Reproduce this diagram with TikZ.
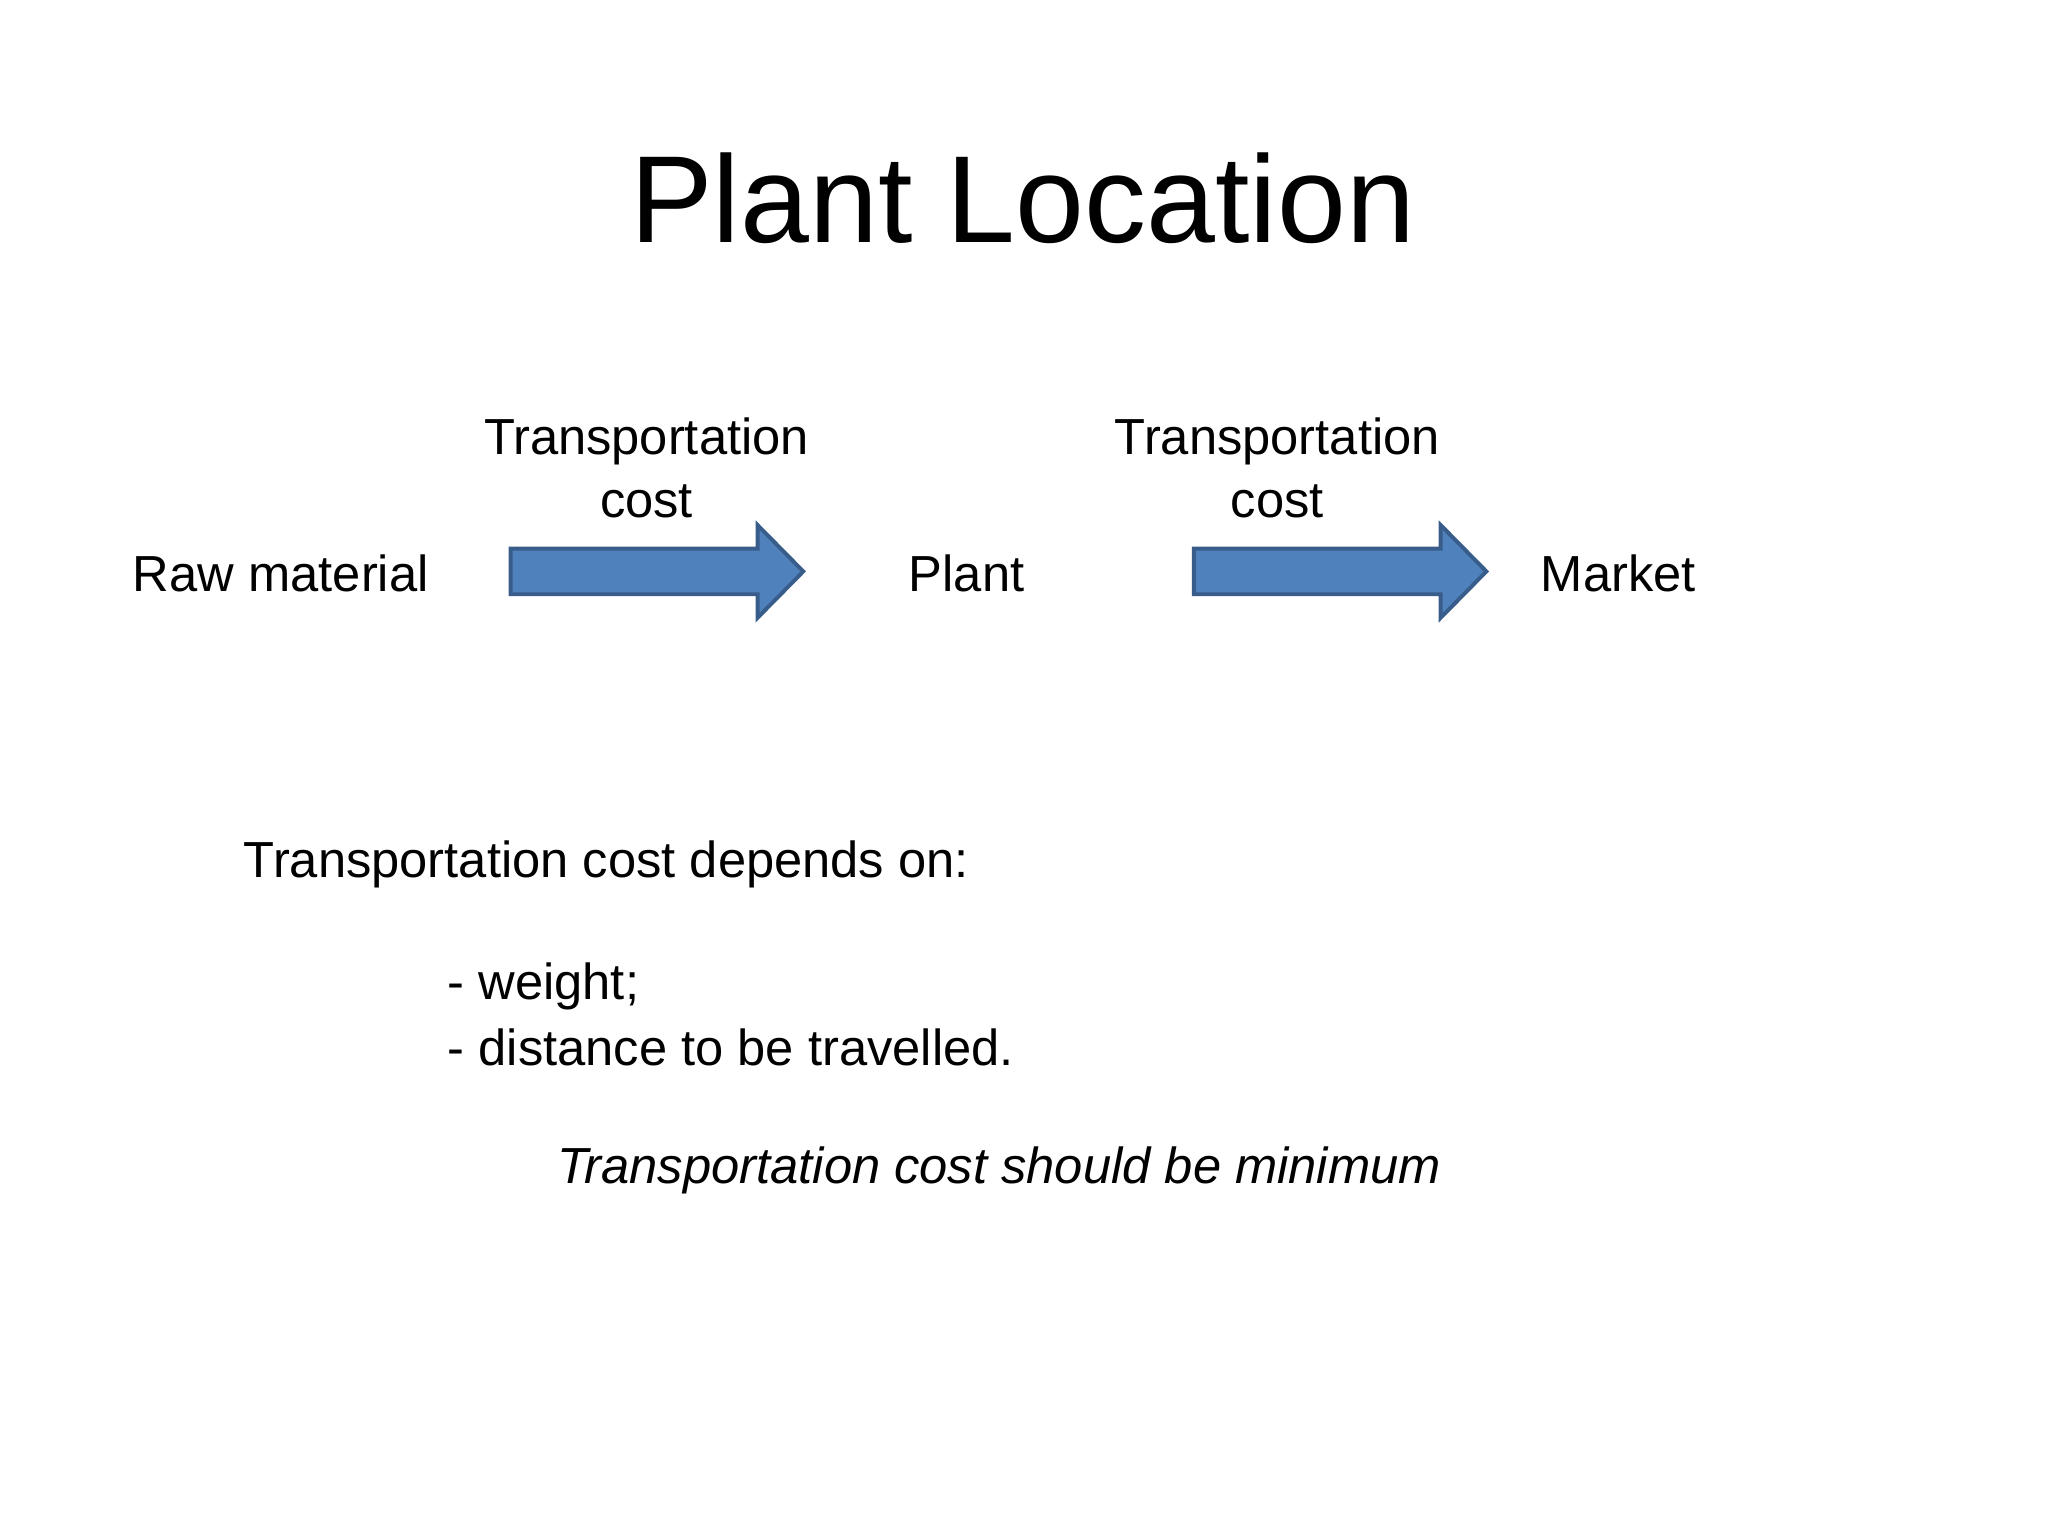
\documentclass[tikz,border=0pt]{standalone}
\usepackage{fontspec}
\setmainfont{Liberation Sans}
\definecolor{arrowfill}{HTML}{4F81BD}
\definecolor{arrowline}{HTML}{385D8A}
\tikzset{every picture/.style={line width=0.75pt}}
\tikzset{
  label text/.style={inner sep=0pt, font=\fontsize{19.4}{23}\selectfont},
  block arrow/.style={fill=arrowfill, draw=arrowline, line width=1.5pt},
}
\begin{document}
\begin{tikzpicture}[x=0.5pt,y=0.5pt,yscale=-1,xscale=1]
        \useasboundingbox (0,0) rectangle (1568,1176);

        % Title
        \node (title) [inner sep=0pt, font=\fontsize{47.4}{56}\selectfont] at (783,152) {Plant Location};

        %Block Arrow: Right
        \draw [block arrow] (391,420) -- (580,420) -- (580,402) -- (615,437.5) -- (580,473) -- (580,455) -- (391,455) -- cycle ;
        %Block Arrow: Right
        \draw [block arrow] (914,420) -- (1103,420) -- (1103,402) -- (1138,437.5) -- (1103,473) -- (1103,455) -- (914,455) -- cycle ;

        % Text Node
        \node (raw) [label text] at (215,439) {Raw material};
        % Text Node
        \node (plant) [label text] at (740,439) {Plant};
        % Text Node
        \node (market) [label text] at (1239,439) {Market};
        % Text Node
        \node (costa) [label text, align=center] at (495,358) {Transportation\\[1pt]cost};
        % Text Node
        \node (costb) [label text, align=center] at (978,358) {Transportation\\[1pt]cost};

        % Text Node
        \node (depends) [label text, anchor=west] at (186,662) {Transportation cost depends on:};
        % Text Node
        \node (weight) [label text, anchor=west] at (342,755) {- weight;};
        % Text Node
        \node (distance) [label text, anchor=west] at (342,802) {- distance to be travelled.};
        % Text Node
        \node (minimum) [label text, font=\fontsize{19.4}{23}\selectfont\itshape] at (765,896) {Transportation cost should be minimum};
\end{tikzpicture}
\end{document}
